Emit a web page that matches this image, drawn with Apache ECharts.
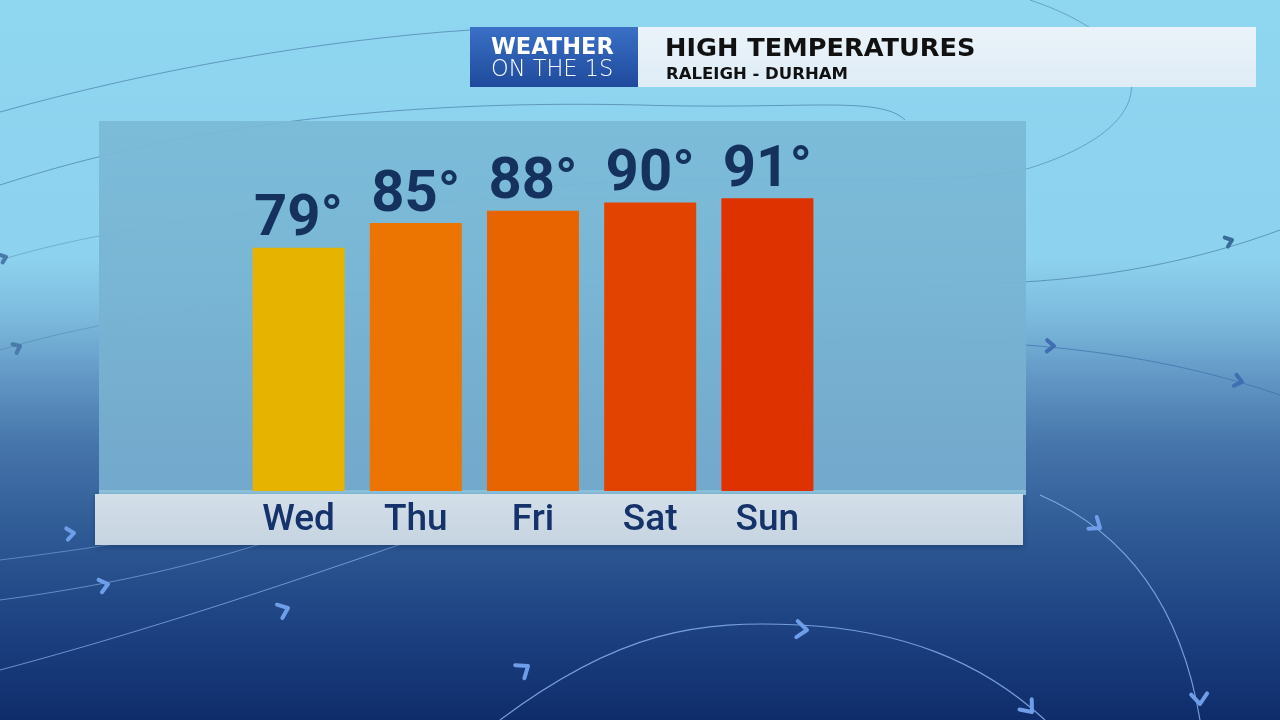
<!DOCTYPE html>
<html>
<head>
<meta charset="utf-8">
<script src="https://cdn.jsdelivr.net/npm/echarts@6/dist/echarts.min.js"></script>
<style>html,body{margin:0;padding:0;width:1280px;height:720px;overflow:hidden;}#c{width:1280px;height:720px;}</style>
</head>
<body>
<div id="c"></div>
<script>
var days = ['Wed', 'Thu', 'Fri', 'Sat', 'Sun'];
var highs = [79, 85, 88, 90, 91];
var barColors = ['#e5b300', '#ec7400', '#e76400', '#e24300', '#de3300'];
var titleMain = 'HIGH TEMPERATURES';
var titleSub = 'RALEIGH - DURHAM';
var brandTop = 'WEATHER';
var brandBottom = 'ON THE 1S';

var chart = echarts.init(document.getElementById('c'), null, {renderer: 'canvas'});

// ang: degrees, positive = clockwise on screen (pointing downward)
function chevron(x, y, ang, color, s) {
  s = s || 9;
  return {
    type: 'polyline', x: x, y: y, rotation: -ang * Math.PI / 180, z: 1,
    shape: {points: [[-s, -s * 0.8], [0, 0], [-s, s * 0.8]]},
    style: {stroke: color, lineWidth: 4, fill: null, lineCap: 'round', lineJoin: 'round'},
    silent: true
  };
}
function curve(pts, color, w, op) {
  var out = [];
  var x = pts[0], y = pts[1];
  for (var i = 2; i + 5 < pts.length; i += 6) {
    out.push({
      type: 'bezierCurve', z: 1, silent: true,
      shape: {x1: x, y1: y, cpx1: pts[i], cpy1: pts[i + 1], cpx2: pts[i + 2], cpy2: pts[i + 3], x2: pts[i + 4], y2: pts[i + 5]},
      style: {stroke: color, lineWidth: w || 1, fill: null, opacity: op == null ? 1 : op}
    });
    x = pts[i + 4]; y = pts[i + 5];
  }
  return out;
}

var darkLine = '#3d6f9c';
var lightLine = '#8fb6f2';
var deco = [].concat(
  curve([0,112, 150,70, 320,40, 470,30], darkLine, 1, 0.6),
  curve([0,185, 200,120, 420,100, 640,105, 800,110, 880,95, 905,120], darkLine, 1, 0.6),
  curve([1030,0, 1150,40, 1180,120, 1030,168, 960,190, 700,170, 500,190], darkLine, 1, 0.5),
  curve([0,260, 200,200, 500,195, 700,200], darkLine, 1, 0.35),
  curve([1000,283, 1100,280, 1200,260, 1280,230], darkLine, 1, 0.6),
  curve([0,350, 200,290, 500,280, 830,292, 900,292, 960,285, 1000,283], darkLine, 1, 0.35),
  curve([820,342, 1000,335, 1150,350, 1280,395], '#3d6faa', 1, 0.7),
  [chevron(1054, 346, 2, '#3f6fb0', 7),
   chevron(1242, 382, 14, '#3f6fb0', 7),
   chevron(1232, 240, -20, '#3a6b99', 6)],
  curve([1040,495, 1120,530, 1180,600, 1200,720], lightLine, 1.2, 0.8),
  [chevron(1100, 528, 35, '#6e9eea', 9),
   chevron(1200, 704, 85, '#6e9eea', 10)],
  curve([500,720, 620,630, 700,620, 800,625, 900,630, 980,660, 1045,720], lightLine, 1.2, 0.8),
  [chevron(528, 666, -35, '#6e9eea', 10),
   chevron(807, 630, 5, '#6e9eea', 10),
   chevron(1032, 712, 50, '#6e9eea', 10)],
  curve([0,670, 150,630, 300,580, 470,520], lightLine, 1, 0.7),
  [chevron(288, 608, -22, '#6e9eea', 9)],
  curve([0,600, 150,580, 250,550, 330,520], lightLine, 1, 0.6),
  [chevron(108, 584, -15, '#6e9eea', 8)],
  curve([0,560, 80,550, 140,540, 200,530], lightLine, 1, 0.5),
  [chevron(74, 533, -8, '#6e9eea', 7),
   chevron(20, 346, -25, '#4a7aaa', 6),
   chevron(6, 257, -20, '#4a7aaa', 5)]
);

var option = {
  backgroundColor: 'transparent',
  animation: false,
  graphic: [
    {type: 'rect', z: 0, silent: true, shape: {x: 0, y: 0, width: 1280, height: 720},
     style: {fill: new echarts.graphic.LinearGradient(0, 0, 0, 1, [
       {offset: 0, color: '#8fd6f1'},
       {offset: 0.36, color: '#8dd2ee'},
       {offset: 0.44, color: '#7cbadd'},
       {offset: 0.52, color: '#6399c6'},
       {offset: 0.62, color: '#4574aa'},
       {offset: 0.75, color: '#2d5893'},
       {offset: 0.88, color: '#1c4080'},
       {offset: 1, color: '#0f2c6a'}
     ])}}
  ].concat(deco).concat([
    {type: 'rect', z: 2, silent: true, shape: {x: 99, y: 121, width: 927, height: 374},
     style: {fill: new echarts.graphic.LinearGradient(0, 0, 0, 1, [
       {offset: 0, color: 'rgba(122,186,215,0.92)'},
       {offset: 1, color: 'rgba(118,172,206,0.95)'}
     ])}},
    {type: 'rect', z: 2, silent: true, shape: {x: 99, y: 490, width: 927, height: 5},
     style: {fill: '#8cc3dc'}},
    {type: 'rect', z: 3, silent: true, shape: {x: 95, y: 494, width: 928, height: 51},
     style: {fill: new echarts.graphic.LinearGradient(0, 0, 0, 1, [
       {offset: 0, color: '#d3dfe9'},
       {offset: 1, color: '#c6d4e1'}
     ]), shadowBlur: 6, shadowColor: 'rgba(0,20,60,0.35)', shadowOffsetY: 2}},
    {type: 'rect', z: 5, silent: true, shape: {x: 470, y: 27, width: 168, height: 60},
     style: {fill: new echarts.graphic.LinearGradient(0, 0, 0, 1, [
       {offset: 0, color: '#3a70c6'},
       {offset: 1, color: '#1f4a9c'}
     ])}},
    {type: 'rect', z: 5, silent: true, shape: {x: 638, y: 27, width: 618, height: 60},
     style: {fill: new echarts.graphic.LinearGradient(0, 0, 0, 1, [
       {offset: 0, color: '#eaf3f9'},
       {offset: 1, color: '#dfecf6'}
     ])}},
    {type: 'text', z: 6, silent: true, x: 491, y: 48,
     style: {text: brandTop, fill: '#ffffff', font: 'bold 22.5px "DejaVu Sans"', textVerticalAlign: 'middle'}},
    {type: 'text', z: 6, silent: true, x: 491, y: 70,
     style: {text: brandBottom, fill: '#ffffff', font: '200 22.5px "DejaVu Sans"', textVerticalAlign: 'middle'}},
    {type: 'text', z: 6, silent: true, x: 665, y: 49,
     style: {text: titleMain, fill: '#111111', font: 'bold 25.6px "DejaVu Sans"', textVerticalAlign: 'middle'}},
    {type: 'text', z: 6, silent: true, x: 666, y: 75,
     style: {text: titleSub, fill: '#111111', font: 'bold 16.5px "DejaVu Sans"', textVerticalAlign: 'middle'}}
  ]),
  grid: {left: 240, width: 586, top: 120, height: 371, containLabel: false},
  xAxis: {
    type: 'category', data: days, z: 10,
    axisLine: {show: false}, axisTick: {show: false},
    axisLabel: {color: '#15326a', fontFamily: 'Roboto', fontSize: 37, fontWeight: 500, margin: 11}
  },
  yAxis: {
    type: 'value', min: 20, max: 110, interval: 10, show: false,
    splitLine: {show: false}
  },
  series: [{
    type: 'bar', z: 4,
    data: highs.map(function (v, i) { return {value: v, itemStyle: {color: barColors[i]}}; }),
    barWidth: 92,
    label: {
      show: true, position: 'top', distance: -2,
      formatter: '{c}°', color: '#15325f',
      fontFamily: 'Roboto', fontWeight: 'bold', fontSize: 58
    }
  }]
};
chart.setOption(option);
</script>
</body>
</html>
